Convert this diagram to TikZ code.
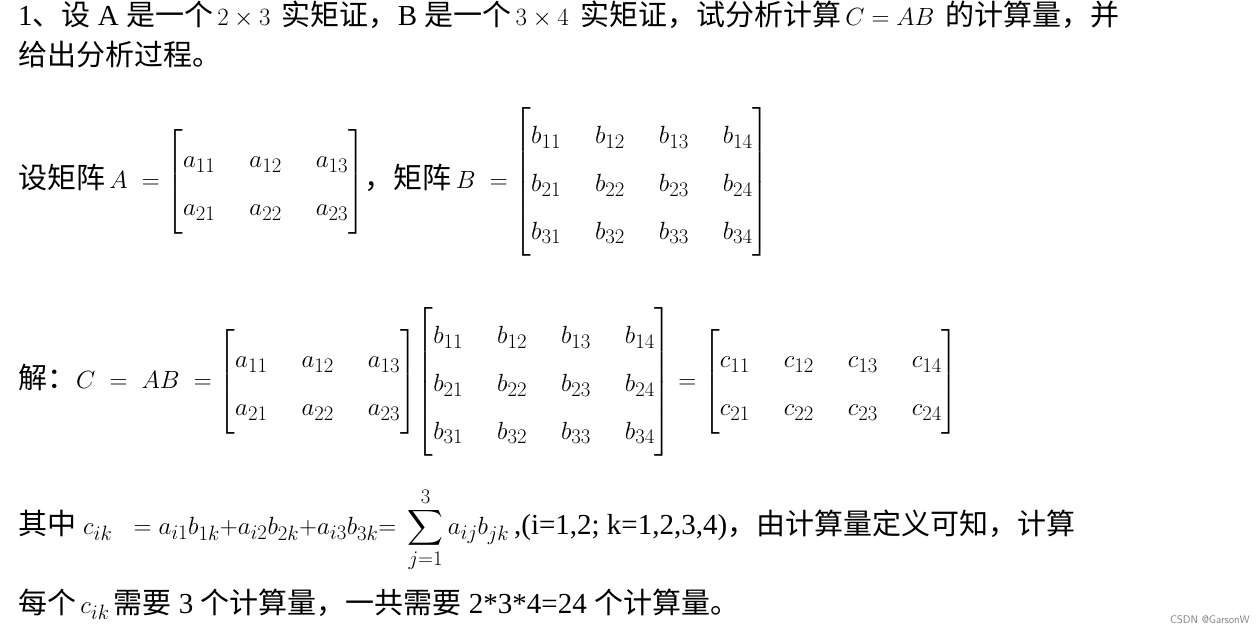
\documentclass[tikz,border=0pt]{standalone}
\usepackage{amsmath}
\usepackage{fontspec}
\setmainfont{Liberation Serif}
\newfontfamily\cjk{Noto Sans CJK SC}
\newcommand{\zh}[1]{{\cjk #1}}
\begin{document}
\begin{tikzpicture}[x=1pt,y=1pt,
  txt/.style={anchor=base west,inner sep=0pt,font=\fontsize{29}{34}\selectfont},
  mtx/.style={anchor=west,inner sep=0pt,font=\fontsize{29}{34}\selectfont\renewcommand\arraystretch{1.4}\setlength\arraycolsep{17pt}}]
\useasboundingbox[fill=white] (0,0) rectangle (1258,636);
\node[txt] (l1) at (18,610) {1\zh{、设} A \zh{是一个}$\,2\times 3\,$ \zh{实矩证，}B \zh{是一个}$\,3\times 4\,$ \zh{实矩证，试分析计算}$\,C=AB\,$ \zh{的计算量，并}};
\node[txt] (l2) at (18,570) {\zh{给出分析过程。}};
\node[mtx] (l3) at (18,454) {\zh{设矩阵}$\,A\ =\begin{bmatrix}a_{11}&a_{12}&a_{13}\\ a_{21}&a_{22}&a_{23}\end{bmatrix}$\zh{，矩阵}$\,B\ =\begin{bmatrix}b_{11}&b_{12}&b_{13}&b_{14}\\ b_{21}&b_{22}&b_{23}&b_{24}\\ b_{31}&b_{32}&b_{33}&b_{34}\end{bmatrix}$};
\node[mtx] (l4) at (18,254) {\zh{解：}$C\ =\ AB\ =\begin{bmatrix}a_{11}&a_{12}&a_{13}\\ a_{21}&a_{22}&a_{23}\end{bmatrix}\!\begin{bmatrix}b_{11}&b_{12}&b_{13}&b_{14}\\ b_{21}&b_{22}&b_{23}&b_{24}\\ b_{31}&b_{32}&b_{33}&b_{34}\end{bmatrix}=\begin{bmatrix}c_{11}&c_{12}&c_{13}&c_{14}\\ c_{21}&c_{22}&c_{23}&c_{24}\end{bmatrix}$};
\node[mtx] (l5) at (18,106) {\zh{其中}$\;c_{ik}\ \ =a_{i1}b_{1k}{+}a_{i2}b_{2k}{+}a_{i3}b_{3k}{=}\ \displaystyle\sum_{j=1}^{3}a_{ij}b_{jk}$\,,(i=1,2; k=1,2,3,4)\zh{，由计算量定义可知，计算}};
\node[txt] (l6) at (18,22) {\zh{每个}$\,c_{ik}\,$\zh{需要} 3 \zh{个计算量，一共需要} 2*3*4=24 \zh{个计算量。}};
\node[anchor=base east,inner sep=0pt,font=\fontsize{11}{13}\selectfont\sffamily,text=gray] (wm) at (1250,12) {CSDN @GarsonW};
\end{tikzpicture}
\end{document}
